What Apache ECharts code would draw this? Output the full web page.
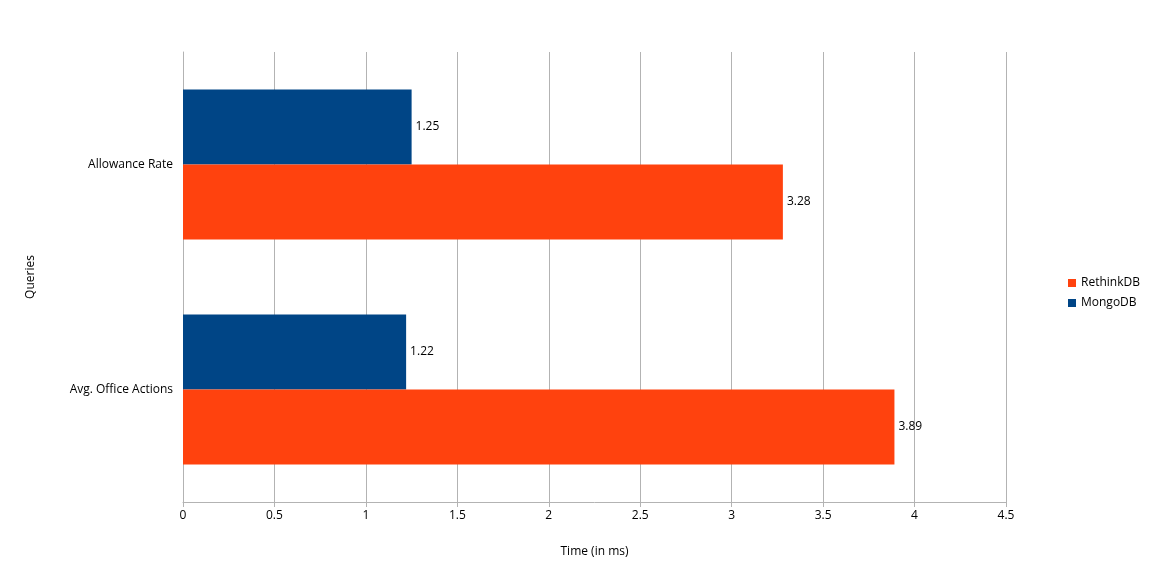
<!DOCTYPE html><html><head><meta charset="utf-8"><script src="https://cdn.jsdelivr.net/npm/echarts@6/dist/echarts.min.js"></script></head><body style="margin:0"><div id="c" style="width:1152px;height:581px"></div><script>
const categories=['Avg. Office Actions','Allowance Rate'];
const rethink=[3.89,3.28];
const mongo=[1.22,1.25];
const c=echarts.init(document.getElementById('c'));
const lbl={show:true,position:'right',color:'#000',fontSize:12,distance:4};
c.setOption({textStyle:{fontFamily:'Open Sans'},animation:false,
grid:{left:183,right:146,top:52,bottom:79},
legend:{orient:'vertical',left:1063,top:272,itemWidth:8,itemHeight:8,itemGap:8,icon:'rect',textStyle:{fontSize:12,color:'#000'},data:['RethinkDB','MongoDB']},
xAxis:{type:'value',min:0,max:4.5,interval:0.5,name:'Time (in ms)',nameLocation:'middle',nameGap:44,nameTextStyle:{fontSize:12,color:'#000'},
axisLabel:{color:'#000',fontSize:12},axisLine:{show:true,lineStyle:{color:'#b3b3b3'}},axisTick:{show:true,length:5,lineStyle:{color:'#b3b3b3'}},splitLine:{lineStyle:{color:'#b3b3b3'}}},
yAxis:{type:'category',data:categories,name:'Queries',nameLocation:'middle',nameGap:146,nameTextStyle:{fontSize:12,color:'#000'},
axisLabel:{color:'#000',fontSize:12,margin:10},axisLine:{lineStyle:{color:'#b3b3b3'}},axisTick:{length:5,lineStyle:{color:'#b3b3b3'}}},
series:[{name:'MongoDB',type:'bar',data:mongo,itemStyle:{color:'#004586'},barGap:'0%',barCategoryGap:'33.3%',label:lbl},
{name:'RethinkDB',type:'bar',data:rethink,itemStyle:{color:'#ff420e'},label:lbl}]});
</script></body></html>
